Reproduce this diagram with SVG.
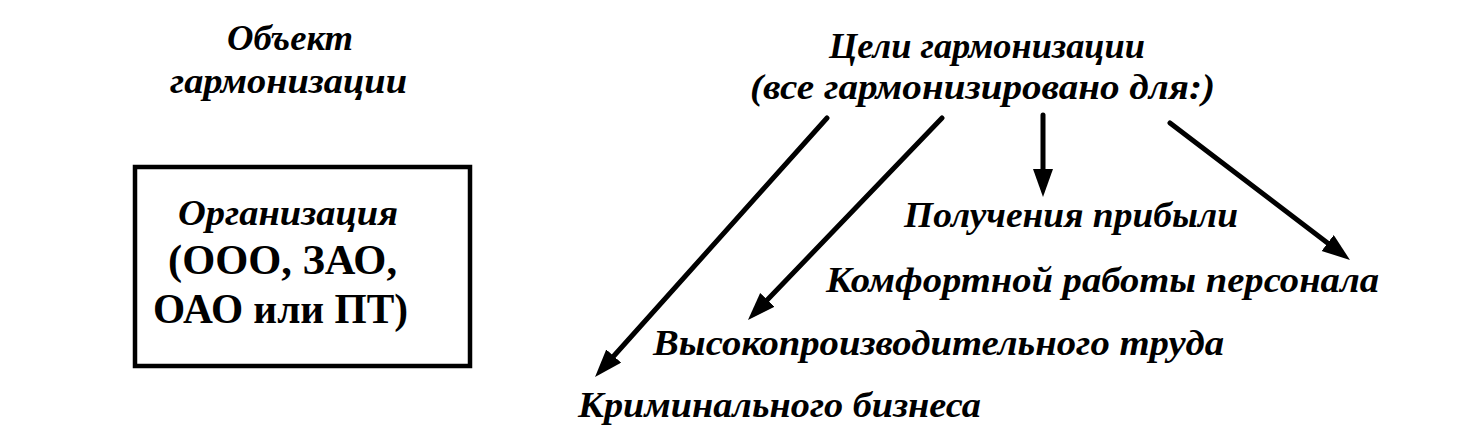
<svg xmlns="http://www.w3.org/2000/svg" width="1472" height="432" viewBox="0 0 1472 432">
  <style>
    .it { font-family: "Liberation Serif", "Times New Roman", serif; font-style: italic; font-weight: bold; font-size: 36px; fill: #000; }
    .up { font-family: "Liberation Serif", "Times New Roman", serif; font-weight: bold; font-size: 42px; fill: #000; }
    .conn { stroke: #000; stroke-width: 5; fill: none; stroke-linecap: round; marker-end: url(#ah); }
  </style>
  <defs>
    <marker id="ah" markerUnits="userSpaceOnUse" markerWidth="30" markerHeight="22" refX="18" refY="10" orient="auto">
      <path d="M0,0 L28,10 L0,20 z" fill="#000"/>
    </marker>
  </defs>
  <rect width="1472" height="432" fill="#fff"/>

  <g id="object-title">
    <text class="it" x="227" y="50" textLength="126" lengthAdjust="spacingAndGlyphs">Объект</text>
    <text class="it" x="170" y="93" textLength="237" lengthAdjust="spacingAndGlyphs">гармонизации</text>
  </g>

  <g id="organization">
    <rect x="135" y="167" width="335" height="199" fill="none" stroke="#000" stroke-width="4.5"/>
    <text class="it" x="178" y="225" textLength="220" lengthAdjust="spacingAndGlyphs">Организация</text>
    <text class="up" x="168" y="274" textLength="229" lengthAdjust="spacingAndGlyphs">(ООО, ЗАО,</text>
    <text class="up" x="153" y="323" textLength="255" lengthAdjust="spacingAndGlyphs">ОАО или ПТ)</text>
  </g>

  <g id="goals-title">
    <text class="it" x="829" y="58" textLength="316" lengthAdjust="spacingAndGlyphs">Цели гармонизации</text>
    <text class="it" x="750" y="99" textLength="465" lengthAdjust="spacingAndGlyphs">(все гармонизировано для:)</text>
  </g>

  <g id="goal-profit">
    <text class="it" x="904" y="227" textLength="334" lengthAdjust="spacingAndGlyphs">Получения прибыли</text>
  </g>
  <g id="goal-comfort">
    <text class="it" x="826" y="292" textLength="553" lengthAdjust="spacingAndGlyphs">Комфортной работы персонала</text>
  </g>
  <g id="goal-productive">
    <text class="it" x="653" y="355" textLength="571" lengthAdjust="spacingAndGlyphs">Высокопроизводительного труда</text>
  </g>
  <g id="goal-criminal">
    <text class="it" x="578" y="417" textLength="403" lengthAdjust="spacingAndGlyphs">Криминального бизнеса</text>
  </g>

  <g id="connectors">
    <line class="conn" x1="827" y1="118" x2="601.7" y2="369.5"/>
    <line class="conn" x1="942" y1="118" x2="754.9" y2="312.8"/>
    <line class="conn" x1="1043" y1="115" x2="1043" y2="187"/>
    <line class="conn" x1="1170" y1="123" x2="1342" y2="253.9"/>
  </g>
</svg>
